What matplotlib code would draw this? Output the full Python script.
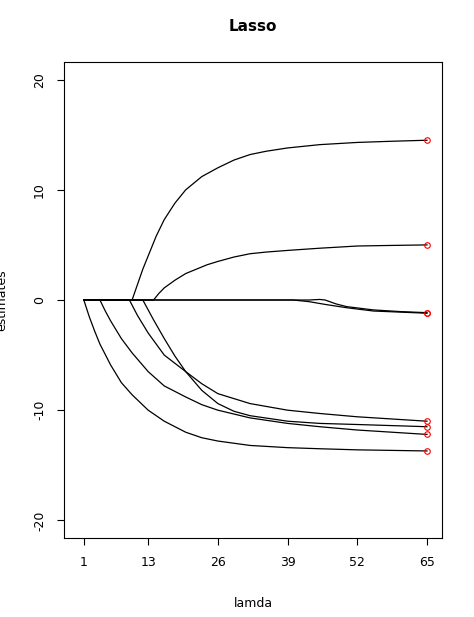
import matplotlib
matplotlib.use("Agg")
import matplotlib.pyplot as plt

# coefficient paths: (lambda index, estimate)
paths = [
    ([1, 10, 11, 12, 13, 14.5, 16, 18, 20, 23, 26, 29, 32, 35, 39, 45, 52, 58, 65],
     [0, 0, 1.4, 2.8, 4.0, 5.8, 7.3, 8.8, 10.0, 11.2, 12.0, 12.7, 13.2, 13.5, 13.8, 14.1, 14.3, 14.4, 14.5]),
    ([1, 14, 15, 16, 18, 20, 22, 24, 26, 29, 32, 35, 39, 45, 52, 58, 65],
     [0, 0, 0.6, 1.1, 1.8, 2.4, 2.8, 3.2, 3.5, 3.9, 4.2, 4.35, 4.5, 4.7, 4.9, 4.95, 5.0]),
    ([1, 40, 43, 46, 50, 55, 60, 65], [0, 0, -0.15, -0.4, -0.7, -1.0, -1.1, -1.2]),
    ([1, 43, 45, 46, 48, 50, 55, 60, 65], [0, 0, 0.05, 0.0, -0.35, -0.6, -0.9, -1.05, -1.15]),
    ([1, 2, 3, 4, 6, 8, 10, 13, 16, 20, 23, 26, 32, 39, 45, 52, 65],
     [0, -1.5, -2.8, -4.0, -5.9, -7.5, -8.6, -10.0, -11.0, -12.0, -12.5, -12.8, -13.2, -13.4, -13.5, -13.6, -13.7]),
    ([1, 4, 5, 6, 8, 10, 13, 16, 20, 23, 26, 32, 39, 45, 52, 65],
     [0, 0, -1.0, -1.9, -3.5, -4.8, -6.5, -7.8, -8.8, -9.5, -10.0, -10.7, -11.2, -11.5, -11.8, -12.2]),
    ([1, 9.5, 11, 13, 16, 20, 23, 26, 32, 39, 45, 52, 65],
     [0, 0, -1.4, -3.0, -5.0, -6.5, -7.6, -8.5, -9.4, -10.0, -10.3, -10.6, -11.0]),
    ([1, 12, 14, 16, 18, 20, 23, 26, 29, 32, 39, 45, 52, 65],
     [0, 0, -1.8, -3.5, -5.1, -6.5, -8.2, -9.4, -10.1, -10.5, -11.0, -11.2, -11.3, -11.5]),
]
xticks = [1, 13, 26, 39, 52, 65]
yticks = [-20, -10, 0, 10, 20]

fig = plt.figure(figsize=(4.74, 6.17), dpi=100)
ax = fig.add_axes([64 / 474, 79 / 617, 378 / 474, 476 / 617])
for xs, ys in paths:
    ax.plot(xs, ys, color="black", lw=0.9)
    ax.plot(xs[-1], ys[-1], "o", mfc="none", mec="red", ms=4, mew=0.8)

ax.set_xlim(-2.7, 67.8)
ax.set_ylim(-21.6, 21.6)
ax.set_xticks(xticks)
ax.set_yticks(yticks)
ax.set_yticklabels([str(v) for v in yticks], rotation=90, va="center")
ax.tick_params(labelsize=9, length=5, pad=8)
ax.set_xlabel("lamda", fontsize=9, labelpad=20)
ax.set_ylabel("estimates", fontsize=9, labelpad=18)
ax.set_title("Lasso", fontweight="bold", fontsize=11, pad=22)
fig.savefig("out.png", dpi=100)
